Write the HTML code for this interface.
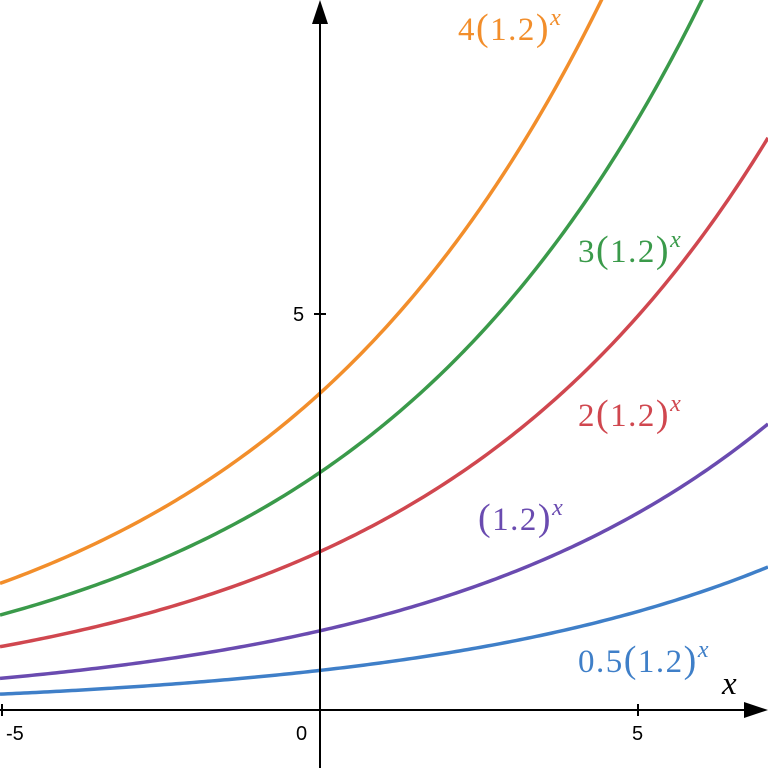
<!DOCTYPE html>
<html><head><meta charset="utf-8">
<style>
html,body{margin:0;padding:0;background:#fff;}
svg{display:block;}
.t{font-family:"Liberation Sans",sans-serif;font-size:20px;fill:#000;}
.m{font-family:"Liberation Serif",serif;font-size:33px;letter-spacing:1.5px;}
.p{font-size:38px;}
.e{font-size:24px;font-style:italic;}
</style></head><body>
<svg id="s" width="768" height="768" viewBox="0 0 768 768" xmlns="http://www.w3.org/2000/svg">
<g id="curves" fill="none" stroke-width="3.5"></g>
<line x1="0" y1="710" x2="752" y2="710" stroke="#000" stroke-width="2"/>
<polygon points="768,710 744,702 744,718" fill="#000"/>
<line x1="320" y1="768" x2="320" y2="18" stroke="#000" stroke-width="2"/>
<polygon points="320,0 312,24 328,24" fill="#000"/>
<line x1="2" y1="704" x2="2" y2="716" stroke="#000" stroke-width="2"/>
<line x1="638" y1="704" x2="638" y2="716" stroke="#000" stroke-width="2"/>
<line x1="314" y1="314" x2="326" y2="314" stroke="#000" stroke-width="2"/>
<text class="t" x="6" y="740">-5</text>
<text class="t" x="296" y="740">0</text>
<text class="t" x="632" y="740">5</text>
<text class="t" x="293" y="321">5</text>
<text class="m" x="722" y="694" font-style="italic" fill="#000">x</text>
<text class="m" x="458" y="40" fill="#f28e2b">4<tspan class="p">(</tspan>1.2<tspan class="p">)</tspan><tspan class="e" dy="-15">x</tspan></text>
<text class="m" x="578" y="262" fill="#3a9a4a">3<tspan class="p">(</tspan>1.2<tspan class="p">)</tspan><tspan class="e" dy="-15">x</tspan></text>
<text class="m" x="578" y="426" fill="#d0474f">2<tspan class="p">(</tspan>1.2<tspan class="p">)</tspan><tspan class="e" dy="-15">x</tspan></text>
<text class="m" x="478" y="530" fill="#6a4bb0"><tspan class="p">(</tspan>1.2<tspan class="p">)</tspan><tspan class="e" dy="-15">x</tspan></text>
<text class="m" x="578" y="672" fill="#3f7fc8">0.5<tspan class="p">(</tspan>1.2<tspan class="p">)</tspan><tspan class="e" dy="-15">x</tspan></text>
</svg>
<script>
var g=document.getElementById('curves');
var cs=[[4,'#f28e2b'],[3,'#3a9a4a'],[2,'#d0474f'],[1,'#6a4bb0'],[0.5,'#3f7fc8']];
cs.forEach(function(c){
  var d='';
  for(var px=0;px<=770;px+=4){
    var x=(px-320)/63.6;
    var y=710-c[0]*Math.pow(1.2,x)*79.2;
    d+=(px?'L':'M')+px+','+y.toFixed(2);
  }
  var p=document.createElementNS('http://www.w3.org/2000/svg','path');
  p.setAttribute('d',d);p.setAttribute('stroke',c[1]);
  g.appendChild(p);
});
</script>
</body></html>
